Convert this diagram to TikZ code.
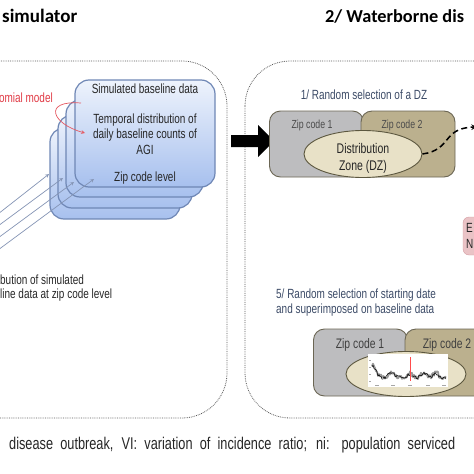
\documentclass[tikz,border=0pt]{standalone}
\usepackage{fontspec}
\setmainfont{Liberation Sans}
\newfontfamily\narrowfont[FakeStretch=0.75]{Liberation Sans}
\newfontfamily\headfont{Carlito}
\usetikzlibrary{shapes.geometric, arrows}

\definecolor{stacktop}{HTML}{EEF3FC}
\definecolor{stackbottom}{HTML}{A7C0EE}
\definecolor{stackedge}{HTML}{6F87B5}
\definecolor{zipgray}{HTML}{BDBDBF}
\definecolor{zipkhaki}{HTML}{BBB08E}
\definecolor{zipedge}{HTML}{6B6654}
\definecolor{dzfill}{HTML}{E8E1C7}
\definecolor{dzedge}{HTML}{5C573F}
\definecolor{stepblue}{HTML}{3B4A66}
\definecolor{notered}{HTML}{E03A45}
\definecolor{feedblue}{HTML}{8494B4}
\definecolor{pinkbox}{HTML}{EAC3C6}
\definecolor{pinkedge}{HTML}{D49DA3}

\tikzstyle{panel} = [densely dotted, draw=black!65, line width=0.8pt, rounded corners=45pt]
\tikzstyle{stackbox} = [rectangle, rounded corners=14pt, draw=stackedge, line width=1.2pt, top color=stacktop, bottom color=stackbottom]
\tikzstyle{zipbox} = [rectangle, rounded corners=11pt, draw=zipedge, line width=0.9pt, minimum height=66pt]
\tikzstyle{dz} = [ellipse, draw=dzedge, fill=dzfill, line width=0.9pt, inner sep=0pt]
\tikzstyle{txt} = [inner sep=0pt, text=black!85, font=\narrowfont\fontsize{13.3}{15.5}\selectfont]
\tikzstyle{steptxt} = [txt, text=stepblue, align=left]
\tikzstyle{headtxt} = [inner sep=0pt, font=\headfont\bfseries\fontsize{19}{22}\selectfont]
\tikzstyle{feed} = [draw=feedblue, line width=0.7pt, ->, >=stealth]
\tikzstyle{note} = [draw=notered!85, line width=0.7pt, ->, >=stealth]
\tikzstyle{dzlink} = [line width=1.5pt, dash pattern=on 6pt off 3.5pt, ->, >=stealth]

\begin{document}
\begin{tikzpicture}[x=1pt, y=-1pt]
\useasboundingbox (0,0) rectangle (474,474);
\clip (0,0) rectangle (474,474);

\node (title1) [headtxt, anchor=base west] at (2,22) {simulator};
\node (title2) [headtxt, anchor=base west, font=\headfont\bfseries\fontsize{18.3}{22}\selectfont] at (325,22) {2/ Waterborne dis};

\draw [panel] (-60,61) rectangle (227,418);
\draw [panel] (245,61) rectangle (540,418);

\node (stack4) [stackbox, minimum width=130pt, minimum height=91pt] at (115,173.5) {};
\node (stack3) [stackbox, minimum width=134pt, minimum height=93pt] at (125,161.5) {};
\node (stack2) [stackbox, minimum width=137pt, minimum height=97pt] at (134.5,148.5) {};
\node (stack1) [stackbox, minimum width=140pt, minimum height=107pt] at (145,133.5) {};
\node (simdata) [txt] at (145,89) {Simulated baseline data};
\node (temporal) [txt, align=center] at (145,134) {Temporal distribution of\\daily baseline counts of\\AGI};
\node (ziplevel) [txt] at (145,178) {Zip code level};

\node (binom) [txt, text=notered, anchor=east] at (53,98) {omial model};
\coordinate (notestart) at (81,103);
\coordinate (noteend) at (85,133);
\draw [note] (notestart) .. controls (42,100) and (52,124) .. (noteend);

\coordinate (feedin1) at (-2,214);
\coordinate (feedin2) at (-2,226);
\coordinate (feedin3) at (-2,238);
\coordinate (feedin4) at (-2,250);
\coordinate (feedtip1) at (49,174);
\coordinate (feedtip2) at (63,178);
\coordinate (feedtip3) at (74,182);
\coordinate (feedtip4) at (94,179);
\draw [feed] (feedin1) -- (feedtip1);
\draw [feed] (feedin2) -- (feedtip2);
\draw [feed] (feedin3) -- (feedtip3);
\draw [feed] (feedin4) -- (feedtip4);

\node (distr1) [txt, anchor=base west] at (0,284) {bution of simulated};
\node (distr2) [txt, anchor=base west] at (0,298) {line data at zip code level};

\fill (231,135) -- (258,135) -- (258,125) -- (274,141) -- (258,157) -- (258,147) -- (231,147) -- cycle;

\node (step1) [steptxt] at (364,95) {1/ Random selection of a DZ};
\node (zip1) [zipbox, fill=zipgray, minimum width=94pt] at (316.5,144) {};
\node (zip2) [zipbox, fill=zipkhaki, minimum width=94pt] at (408,144) {};
\node (zip1lbl) [txt, font=\narrowfont\fontsize{11.7}{13}\selectfont, text=black!70] at (312,125) {Zip code 1};
\node (zip2lbl) [txt, font=\narrowfont\fontsize{11.7}{13}\selectfont, text=black!70] at (402,125) {Zip code 2};
\node (dz1) [dz, minimum width=118pt, minimum height=47pt] at (363,154) {};
\node (dz1lbl) [txt, align=center, font=\narrowfont\fontsize{14}{17}\selectfont] at (363,158) {Distribution\\Zone (DZ)};
\coordinate (dzout) at (477,127);
\draw [dzlink] (dz1.east) .. controls (452,150) and (442,128) .. (dzout);

\node (pink) [rectangle, rounded corners=6pt, fill=pinkbox, draw=pinkedge, minimum width=60pt, minimum height=38pt] at (493,236) {};
\node (pinklbl) [txt, anchor=west, align=left, font=\narrowfont\fontsize{13.3}{16}\selectfont] at (466,236) {E\\N};

\node (step5) [steptxt, anchor=west] at (276,302.5) {5/ Random selection of starting date\\and superimposed on baseline data};
\node (zip3) [zipbox, fill=zipgray, minimum width=94pt, minimum height=67pt] at (360.5,362.5) {};
\node (zip4) [zipbox, fill=zipkhaki, minimum width=94pt, minimum height=67pt] at (452,362.5) {};
\node (zip3lbl) [txt, font=\narrowfont\fontsize{13.8}{15}\selectfont, text=black!75] at (360,345) {Zip code 1};
\node (zip4lbl) [txt, font=\narrowfont\fontsize{13.8}{15}\selectfont, text=black!75] at (447,345) {Zip code 2};
\node (dz2) [dz, minimum width=120pt, minimum height=45pt] at (406,374) {};
\node (chart) [rectangle, fill=white, minimum width=80pt, minimum height=33pt, inner sep=0pt] at (408,370.5) {};

\pgfmathsetseed{11}
\draw [black!40, line width=1.8pt, line join=round] (372,366) \foreach \i in {1,...,74} { -- ({372+\i}, {380 - 12*exp(-(\i)*(\i)/30) - 6*exp(-(\i-20)*(\i-20)/20) - 4*exp(-(\i-38)*(\i-38)/12) - 5*exp(-(\i-52)*(\i-52)/20) - 4*exp(-(\i-64)*(\i-64)/20) - 5*rnd}) };
\draw [black, line width=0.5pt, line join=round] (372,367) \foreach \i in {1,...,74} { -- ({372+\i}, {380 - 12*exp(-(\i)*(\i)/30) - 6*exp(-(\i-20)*(\i-20)/20) - 4*exp(-(\i-38)*(\i-38)/12) - 5*exp(-(\i-52)*(\i-52)/20) - 4*exp(-(\i-64)*(\i-64)/20) - 4*rnd}) };
\draw [red!70, line width=0.7pt] (410,357) -- (410,381);
\foreach \tx in {377,393,410,428,444} \fill [black!35] (\tx-2,385) rectangle (\tx+2,386);
\foreach \ty in {360,367,374,381} \fill [black!35] (369,\ty) rectangle (370.5,\ty+1);

\node (caption) [txt, anchor=base west, font=\narrowfont\fontsize{17}{19}\selectfont] at (9,449) {\makebox[446pt][s]{disease outbreak, VI: variation of incidence ratio; ni: population serviced}};
\end{tikzpicture}
\end{document}
